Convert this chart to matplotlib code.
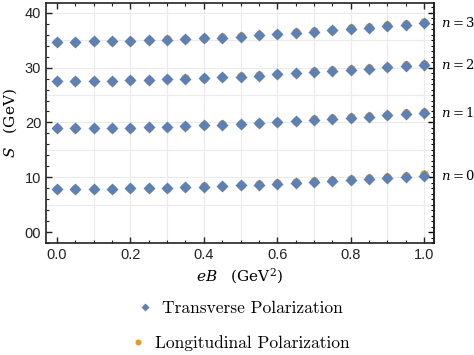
import numpy as np
import matplotlib.pyplot as plt
from matplotlib.ticker import MultipleLocator, FixedLocator

# magnetic field values (GeV^2)
eB = [0.0, 0.05, 0.1, 0.15, 0.2, 0.25, 0.3, 0.35, 0.4, 0.45, 0.5,
      0.55, 0.6, 0.65, 0.7, 0.75, 0.8, 0.85, 0.9, 0.95, 1.0]

# transverse polarization, n = 0..3
trans_n0 = [7.85, 7.85, 7.87, 7.9, 7.95, 8.0, 8.08, 8.17, 8.27, 8.38, 8.5,
            8.63, 8.8, 8.98, 9.15, 9.33, 9.52, 9.7, 9.88, 10.05, 10.22]
trans_n1 = [18.94, 18.94, 18.94, 19.0, 19.06, 19.12, 19.24, 19.36, 19.49, 19.61, 19.73,
            19.85, 20.03, 20.27, 20.46, 20.64, 20.88, 21.07, 21.31, 21.49, 21.67]
trans_n2 = [27.52, 27.52, 27.58, 27.58, 27.7, 27.76, 27.88, 28.0, 28.12, 28.25, 28.37,
            28.55, 28.8, 28.98, 29.22, 29.4, 29.65, 29.83, 30.07, 30.31, 30.56]
trans_n3 = [34.76, 34.76, 34.82, 34.88, 34.94, 35.0, 35.13, 35.25, 35.37, 35.5, 35.68,
            35.92, 36.1, 36.4, 36.59, 36.83, 37.08, 37.32, 37.62, 37.87, 38.11]

# longitudinal polarization, n = 0..3
long_n0 = [7.85, 7.86, 7.88, 7.92, 7.98, 8.04, 8.12, 8.22, 8.33, 8.45, 8.58,
           8.72, 8.9, 9.1, 9.28, 9.48, 9.68, 9.88, 10.08, 10.3, 10.52]
long_n1 = [18.94, 18.94, 18.95, 19.01, 19.07, 19.14, 19.26, 19.38, 19.52, 19.65, 19.78,
           19.91, 20.1, 20.35, 20.55, 20.74, 20.99, 21.2, 21.45, 21.65, 21.85]
long_n2 = [27.52, 27.52, 27.59, 27.59, 27.71, 27.78, 27.9, 28.03, 28.15, 28.29, 28.42,
           28.61, 28.87, 29.06, 29.31, 29.5, 29.76, 29.95, 30.2, 30.45, 30.72]
long_n3 = [34.76, 34.76, 34.83, 34.89, 34.95, 35.02, 35.15, 35.28, 35.4, 35.54, 35.73,
           35.97, 36.16, 36.47, 36.67, 36.92, 37.17, 37.42, 37.73, 37.99, 38.25]

n_labels = ["$n=0$", "$n=1$", "$n=2$", "$n=3$"]
y_ticks = [0, 10, 20, 30, 40]
y_ticklabels = ["00", "10", "20", "30", "40"]

blue = "#5E81B5"
orange = "#E19C24"

plt.rcParams["mathtext.fontset"] = "dejavuserif"

fig = plt.figure(figsize=(4.74, 3.55), dpi=100)
ax = fig.add_axes([46 / 474, 1 - 243 / 355, (434 - 46) / 474, (243 - 3) / 355])

long_all = [long_n0, long_n1, long_n2, long_n3]
trans_all = [trans_n0, trans_n1, trans_n2, trans_n3]
for i in range(4):
    lo, = ax.plot(eB, long_all[i], "o", color=orange, ms=6.2, mec="none", zorder=3)
for i in range(4):
    tr, = ax.plot(eB, trans_all[i], "D", color=blue, ms=6.3, mec="none", zorder=4)

ax.set_xlim(-0.03, 1.027)
ax.set_ylim(-2.0, 41.8)

ax.xaxis.set_major_locator(MultipleLocator(0.2))
ax.xaxis.set_minor_locator(MultipleLocator(0.05))
ax.yaxis.set_major_locator(FixedLocator(y_ticks))
ax.set_yticklabels(y_ticklabels)
ax.yaxis.set_minor_locator(MultipleLocator(2))

ax.tick_params(which="both", direction="in", top=True, right=False,
               labelsize=10.5, colors="#222222", labelfontfamily="Liberation Sans")
ax.tick_params(which="major", length=4, width=1)
ax.tick_params(which="minor", length=2, width=0.8)

# dense minor ticks on the right frame
sec = ax.secondary_yaxis("right")
sec.yaxis.set_major_locator(MultipleLocator(10))
sec.yaxis.set_minor_locator(MultipleLocator(1))
sec.tick_params(which="both", direction="in", labelright=False)
sec.tick_params(which="major", length=4, width=1)
sec.tick_params(which="minor", length=2, width=0.8)
sec.spines["right"].set_linewidth(1.2)
sec.spines["right"].set_color("#222222")

for s in ax.spines.values():
    s.set_linewidth(1.2)
    s.set_color("#222222")

for x in np.arange(0.1, 1.01, 0.1):
    ax.axvline(x, color="#ebebeb", lw=0.8, zorder=0)
for y in range(5, 41, 5):
    ax.axhline(y, color="#ebebeb", lw=0.8, zorder=0)

for i in range(4):
    ax.annotate(n_labels[i], xy=(1.0, trans_all[i][-1]), xycoords="data",
                xytext=(12, 0), textcoords="offset points",
                va="center", ha="left", fontsize=9.5, annotation_clip=False)

ax.set_xlabel(r"$eB$   (GeV$^2$)", fontsize=11, family="DejaVu Serif", labelpad=3)
ax.set_ylabel(r"$S$   (GeV)", fontsize=11, family="DejaVu Serif", labelpad=4)

# one centred legend line per series
leg_font = {"family": "cmr10", "size": 12.5}
fig.legend([tr], ["Transverse Polarization"], loc="center",
           bbox_to_anchor=(0.505, 1 - 308 / 355), frameon=False, prop=leg_font,
           handletextpad=0.5, handlelength=1.0, markerscale=0.7,
           borderpad=0, borderaxespad=0)
fig.legend([lo], ["Longitudinal Polarization"], loc="center",
           bbox_to_anchor=(0.505, 1 - 343 / 355), frameon=False, prop=leg_font,
           handletextpad=0.5, handlelength=1.0, markerscale=0.7,
           borderpad=0, borderaxespad=0)

fig.savefig("out.png", dpi=100)
